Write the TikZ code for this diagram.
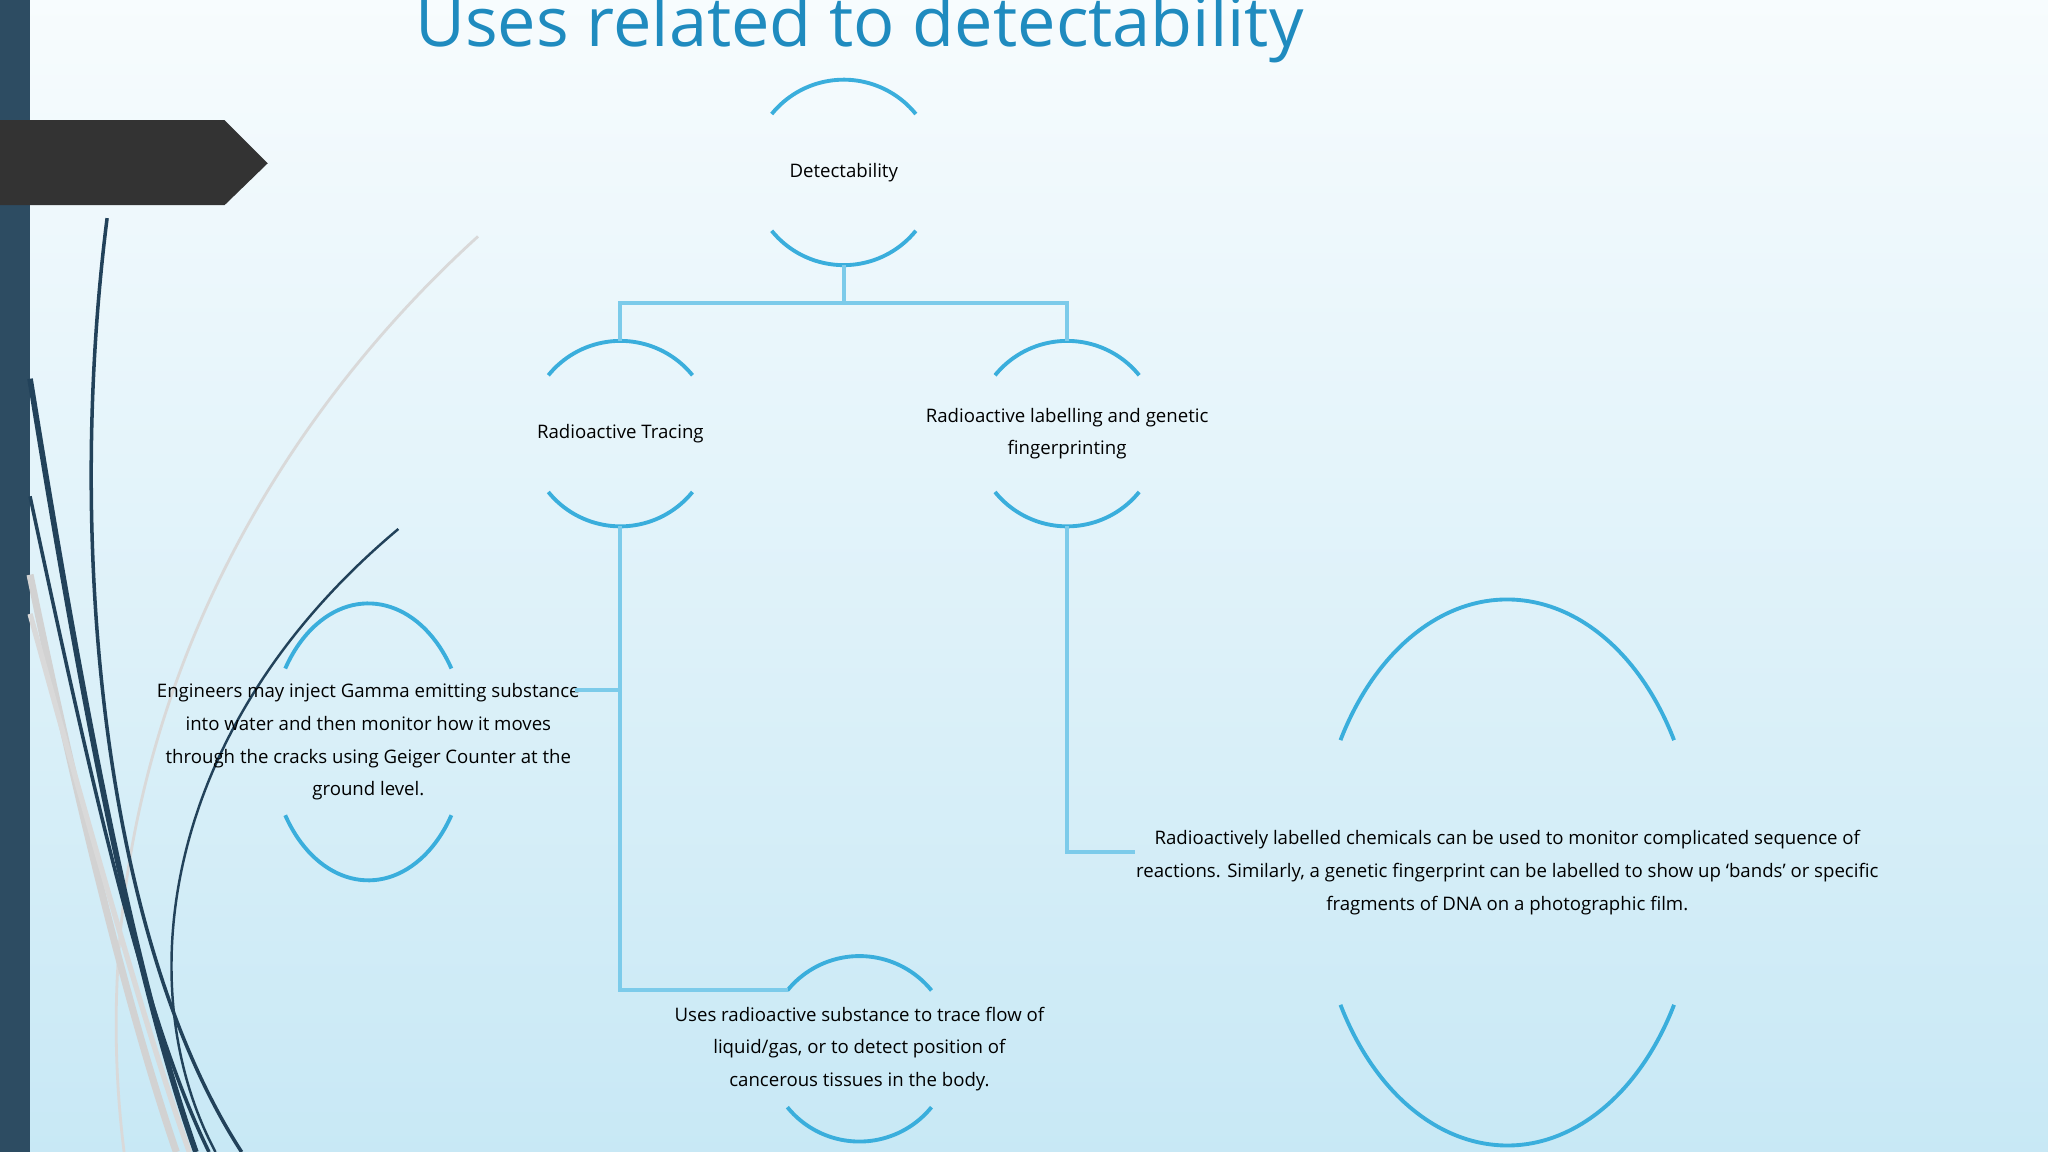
\documentclass[tikz,border=0pt]{standalone}
\usepackage{fontspec}
\setmainfont{Open Sans}
\usepackage{tikz}
\usetikzlibrary{shapes.geometric,calc}

\definecolor{titleblue}{HTML}{1F8BBF}
\definecolor{capblue}{HTML}{3AAEDC}
\definecolor{linkblue}{HTML}{7CCBEA}
\definecolor{barblue}{HTML}{2D4C62}
\definecolor{curveblue}{HTML}{22425A}

\newcommand\pxu{0.01306cm}
% top and bottom caps of a node
\newcommand\capped[4]{%
  \draw[capline] ($(#1.center)+({#2*cos(#4)},{#3*sin(#4)})$)
    arc[start angle=#4, end angle=180-#4, x radius=#2*\pxu, y radius=#3*\pxu];
  \draw[capline] ($(#1.center)+({-#2*cos(#4)},{-#3*sin(#4)})$)
    arc[start angle=180+#4, end angle=360-#4, x radius=#2*\pxu, y radius=#3*\pxu];}

\begin{document}
\begin{tikzpicture}[x=0.01306cm, y=0.01306cm,
  capline/.style={capblue, line width=1.1pt},
  link/.style={linkblue, line width=1.1pt},
  item/.style={ellipse, align=center, font=\fontsize{5.3}{9.3}\selectfont},
  curve/.style={curveblue, line width=1pt}]
  \useasboundingbox (0,0) rectangle (1568,-882);
  \clip (0,0) rectangle (1568,-882);
  \shade[top color=white!96!capblue, bottom color=capblue!28!white] (0,0) rectangle (1568,-882);
  \fill[barblue] (0,0) rectangle (23,-882);

  % decorative curves
  \draw[gray!30, line width=0.8pt] (366,-181) .. controls (180,-350) and (60,-600) .. (95,-882);
  \draw[gray!35, line width=2pt] (23,-440) .. controls (60,-620) and (100,-780) .. (135,-882);
  \draw[gray!30, line width=1.5pt] (23,-470) .. controls (70,-640) and (115,-800) .. (145,-882);
  \draw[curve] (82,-167) .. controls (50,-420) and (80,-720) .. (185,-882);
  \draw[curve, line width=1.6pt] (23,-290) .. controls (60,-520) and (100,-740) .. (150,-882);
  \draw[curve] (23,-380) .. controls (70,-600) and (110,-780) .. (160,-882);
  \draw[curve, line width=0.7pt] (305,-405) .. controls (120,-560) and (100,-760) .. (165,-882);

  \fill[black!80] (0,-92) -- (172,-92) -- (205,-125) -- (172,-157) -- (0,-157) -- cycle;

  \node[titleblue, font=\fontsize{19.5}{22}\selectfont] (title) at (658,-22) {Uses related to detectability};

  \node[item, minimum width=142*\pxu, minimum height=142*\pxu] (det) at (646,-132) {Detectability};
  \node[item, minimum width=142*\pxu, minimum height=142*\pxu] (trace) at (475,-332) {Radioactive Tracing};
  \node[item, minimum width=142*\pxu, minimum height=142*\pxu] (label) at (817,-332) {Radioactive labelling and genetic\\fingerprinting};
  \node[item, minimum width=150*\pxu, minimum height=212*\pxu] (eng) at (282,-568)
    {Engineers may inject Gamma emitting substance\\into water and then monitor how it moves\\through the cracks using Geiger Counter at the\\ground level.};
  \node[item, minimum width=142*\pxu, minimum height=142*\pxu] (use) at (658,-803)
    {Uses radioactive substance to trace flow of\\liquid/gas, or to detect position of\\cancerous tissues in the body.};
  \node[item, minimum width=292*\pxu, minimum height=418*\pxu] (chem) at (1154,-668)
    {Radioactively labelled chemicals can be used to monitor complicated sequence of\\reactions. Similarly, a genetic fingerprint can be labelled to show up ‘bands’ or specific\\fragments of DNA on a photographic film.};

  \capped{det}{71}{71}{39}
  \capped{trace}{71}{71}{39}
  \capped{label}{71}{71}{39}
  \capped{eng}{75}{106}{32}
  \capped{use}{71}{71}{39}
  \capped{chem}{146}{209}{29}

  \draw[link] (det.center) ++(0,-71) -- ++(0,-29) -| ($(trace.center)+(0,71)$);
  \draw[link] (det.center) ++(0,-71) -- ++(0,-29) -| ($(label.center)+(0,71)$);
  \draw[link] ($(trace.center)+(0,-71)$) |- ($(use.center)+(-55,45)$);
  \draw[link] ($(trace.center)+(0,-71)$) |- ($(eng.center)+(158,40)$);
  \draw[link] ($(label.center)+(0,-71)$) |- ($(chem.center)+(-285,16)$);
\end{tikzpicture}
\end{document}
